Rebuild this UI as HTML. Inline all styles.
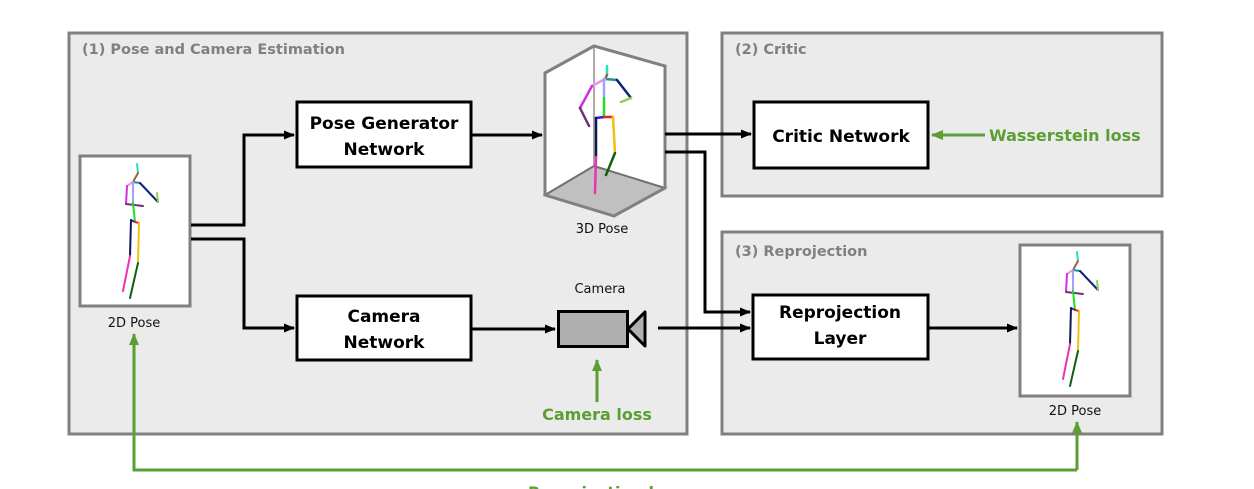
<!DOCTYPE html>
<html><head><meta charset="utf-8"><style>
html,body{margin:0;padding:0;background:#fff;width:1254px;height:489px;overflow:hidden}
svg{display:block}
text{font-family:"DejaVu Sans","Liberation Sans",sans-serif}
</style></head><body>
<svg width="1254" height="489" viewBox="0 0 1254 489" xmlns="http://www.w3.org/2000/svg">
<defs>
<marker id="ak" markerWidth="11" markerHeight="9" refX="10" refY="4.5" orient="auto" markerUnits="userSpaceOnUse"><path d="M0,0 L11,4.5 L0,9 z" fill="#000"/></marker>
<marker id="ag" markerWidth="12" markerHeight="10" refX="11" refY="5" orient="auto" markerUnits="userSpaceOnUse"><path d="M0,0 L12,5 L0,10 z" fill="#5a9e34"/></marker>
<g id="fig" stroke-width="2" stroke-linecap="round" fill="none">
<line x1="58" y1="9" x2="59" y2="18" stroke="#22e0c0"/>
<line x1="59" y1="18" x2="54" y2="27" stroke="#a06040"/>
<line x1="54" y1="27" x2="61" y2="28" stroke="#209090"/>
<line x1="61" y1="28" x2="79" y2="47" stroke="#102080"/>
<line x1="79" y1="47" x2="78" y2="38" stroke="#90d050"/>
<line x1="54" y1="27" x2="48" y2="31" stroke="#f090e0"/>
<line x1="48" y1="31" x2="47" y2="49" stroke="#d030e0"/>
<line x1="47" y1="49" x2="64" y2="51" stroke="#703070"/>
<line x1="54" y1="27" x2="54" y2="48" stroke="#a0a0ff"/>
<line x1="54" y1="48" x2="56" y2="67" stroke="#20e020"/>
<line x1="56" y1="67" x2="52" y2="65" stroke="#2020e0"/>
<line x1="56" y1="67" x2="60" y2="68" stroke="#f02020"/>
<line x1="52" y1="65" x2="51" y2="101" stroke="#101850"/>
<line x1="51" y1="101" x2="44" y2="136" stroke="#f030b0"/>
<line x1="60" y1="68" x2="59" y2="108" stroke="#f0c010"/>
<line x1="59" y1="108" x2="51" y2="143" stroke="#106010"/>
</g>
</defs>
<rect x="69" y="33" width="618" height="401" fill="#ebebeb" stroke="#808080" stroke-width="3"/>
<rect x="722" y="33" width="440" height="163" fill="#ebebeb" stroke="#808080" stroke-width="3"/>
<rect x="722" y="232" width="440" height="202" fill="#ebebeb" stroke="#808080" stroke-width="3"/>
<g font-size="14.5" font-weight="bold" fill="#808080">
<text x="82" y="54">(1) Pose and Camera Estimation</text>
<text x="735" y="54">(2) Critic</text>
<text x="735" y="256">(3) Reprojection</text>
</g>
<rect x="80" y="156" width="110" height="150" fill="#fff" stroke="#808080" stroke-width="3"/>
<use href="#fig" x="79" y="155"/>
<text x="134" y="327" font-size="13" text-anchor="middle" fill="#111">2D Pose</text>
<rect x="1020" y="245" width="110" height="151" fill="#fff" stroke="#808080" stroke-width="3"/>
<use href="#fig" x="1019" y="243"/>
<text x="1075" y="415" font-size="13" text-anchor="middle" fill="#111">2D Pose</text>
<g fill="#fff" stroke="#000" stroke-width="3">
<rect x="297" y="102" width="174" height="65"/>
<rect x="297" y="296" width="174" height="64"/>
<rect x="754" y="102" width="174" height="66"/>
<rect x="753" y="295" width="175" height="64"/>
</g>
<g font-size="17" font-weight="bold" text-anchor="middle" fill="#000">
<text x="384" y="129">Pose Generator</text>
<text x="384" y="155">Network</text>
<text x="384" y="322">Camera</text>
<text x="384" y="348">Network</text>
<text x="841" y="142">Critic Network</text>
<text x="840" y="318">Reprojection</text>
<text x="840" y="344">Layer</text>
</g>
<polygon points="545,73 594,46 665,66 665,188 614,216 545,195" fill="#fff"/>
<polygon points="545,195 594,166 665,188 614,216" fill="#c0c0c0" stroke="#707070" stroke-width="2"/>
<line x1="594" y1="46" x2="594" y2="166" stroke="#909090" stroke-width="1.5"/>
<polygon points="545,73 594,46 665,66 665,188 614,216 545,195" fill="none" stroke="#808080" stroke-width="3"/>
<g stroke-width="2.5" stroke-linecap="round" fill="none">
<line x1="607" y1="66" x2="607" y2="75" stroke="#22e0c0"/>
<line x1="607" y1="75" x2="605" y2="79" stroke="#a06040"/>
<line x1="605" y1="79" x2="617" y2="80" stroke="#209090"/>
<line x1="617" y1="80" x2="631" y2="98" stroke="#102080"/>
<line x1="631" y1="98" x2="621" y2="102" stroke="#90d050"/>
<line x1="605" y1="79" x2="592" y2="86" stroke="#f090e0"/>
<line x1="592" y1="86" x2="580" y2="108" stroke="#d030e0"/>
<line x1="580" y1="108" x2="589" y2="126" stroke="#703070"/>
<line x1="604" y1="79" x2="604" y2="98" stroke="#a0a0ff"/>
<line x1="604" y1="98" x2="604" y2="117" stroke="#20e020"/>
<line x1="604" y1="117" x2="596" y2="118" stroke="#2020e0"/>
<line x1="604" y1="117" x2="613" y2="117" stroke="#f02020"/>
<line x1="596" y1="118" x2="596" y2="157" stroke="#101850"/>
<line x1="596" y1="157" x2="595" y2="193" stroke="#f030b0"/>
<line x1="613" y1="117" x2="615" y2="153" stroke="#f0c010"/>
<line x1="615" y1="153" x2="606" y2="175" stroke="#106010"/>
</g>
<text x="602" y="233" font-size="13" text-anchor="middle" fill="#111">3D Pose</text>
<text x="600" y="293" font-size="13" text-anchor="middle" fill="#111">Camera</text>
<rect x="558.5" y="311.5" width="69" height="35" fill="#b0b0b0" stroke="#000" stroke-width="3"/>
<polygon points="628,329 645,312 645,346" fill="#b0b0b0" stroke="#000" stroke-width="3" stroke-linejoin="round"/>
<g stroke="#000" stroke-width="3" fill="none">
<polyline points="191,225 244,225 244,135 294,135" marker-end="url(#ak)"/>
<polyline points="191,239 244,239 244,328 294,328" marker-end="url(#ak)"/>
<line x1="472" y1="135" x2="542" y2="135" marker-end="url(#ak)"/>
<line x1="472" y1="329" x2="555" y2="329" marker-end="url(#ak)"/>
<line x1="665" y1="134" x2="751" y2="134" marker-end="url(#ak)"/>
<polyline points="665,152 705,152 705,312 750,312" marker-end="url(#ak)"/>
<line x1="658" y1="328" x2="750" y2="328" marker-end="url(#ak)"/>
<line x1="929" y1="328" x2="1017" y2="328" marker-end="url(#ak)"/>
</g>
<g stroke="#5a9e34" stroke-width="3" fill="none">
<line x1="985" y1="135" x2="932" y2="135" marker-end="url(#ag)"/>
<line x1="597" y1="402" x2="597" y2="360" marker-end="url(#ag)"/>
<polyline points="1077,470 1077,422" marker-end="url(#ag)"/>
<polyline points="134,336 134,470 1077,470" />
<line x1="134" y1="380" x2="134" y2="334" marker-end="url(#ag)"/>
</g>
<g font-size="16" font-weight="bold" fill="#5a9e34">
<text x="989" y="141">Wasserstein loss</text>
<text x="597" y="420" text-anchor="middle">Camera loss</text>
<text x="606" y="498" text-anchor="middle">Reprojection loss</text>
</g>
</svg>
</body></html>
